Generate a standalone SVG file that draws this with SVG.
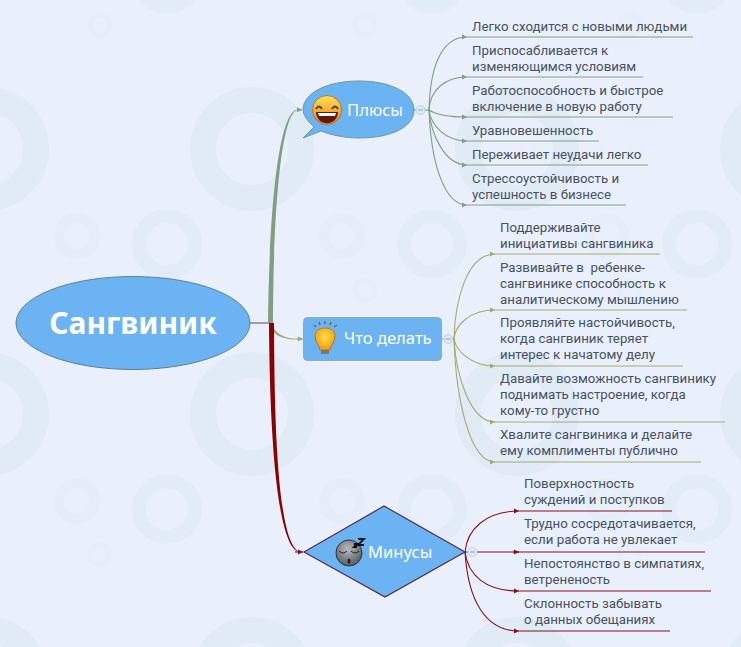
<svg xmlns="http://www.w3.org/2000/svg" width="741" height="647" viewBox="0 0 741 647">
<defs>
<style>
text{font-family:"Noto Sans","Open Sans",sans-serif}
.t{font-family:Roboto,"Noto Sans",sans-serif;font-size:13.3px;fill:#45525f;white-space:pre}
.n{font-size:16.6px;fill:#fff}
.r{fill:none}
.g,.o,.m{fill:none;stroke-width:1.1}
.g{stroke:#7f9f80}.o{stroke:#a3ab6c}.m{stroke:#84101c}
.c{fill:#dfe9f7;stroke:#bcd0ea;stroke-width:1}
</style>
<marker id="ag" markerWidth="6" markerHeight="6" refX="5" refY="2.5" orient="auto"><path d="M0 0L5 2.5L0 5z" fill="#7f9f80"/></marker>
<marker id="ao" markerWidth="6" markerHeight="6" refX="5" refY="2.5" orient="auto"><path d="M0 0L5 2.5L0 5z" fill="#a3ab6c"/></marker>
<marker id="am" markerWidth="6" markerHeight="6" refX="5" refY="2.5" orient="auto"><path d="M0 0L5 2.5L0 5z" fill="#84101c"/></marker>
<radialGradient id="bulb" cx=".5" cy=".4" r=".6"><stop offset="0" stop-color="#ffe04a"/><stop offset="1" stop-color="#f09a10"/></radialGradient>
<linearGradient id="smile" x1="0" y1="0" x2="0" y2="1"><stop offset="0" stop-color="#ffe25a"/><stop offset="1" stop-color="#f07a10"/></linearGradient>
<radialGradient id="sleep" cx=".45" cy=".35" r=".7"><stop offset="0" stop-color="#b9bcc0"/><stop offset="1" stop-color="#4d5256"/></radialGradient>
<g id="tile">
<circle class="r" cx="252" cy="149" r="49" stroke="#e0ebf6" stroke-width="26"/>
<circle class="r" cx="167" cy="244" r="28" stroke="#e2ecf7" stroke-width="14"/>
<circle class="r" cx="77" cy="236" r="18" stroke="#e4edf8" stroke-width="10"/>
<circle class="r" cx="100" cy="290" r="10" stroke="#e5eef9" stroke-width="5"/>
</g>
</defs>
<rect width="741" height="647" fill="#eaf0fb"/>
<g id="background">
<use href="#tile" x="-265" y="-265"/><use href="#tile" x="0" y="-265"/><use href="#tile" x="265" y="-265"/><use href="#tile" x="530" y="-265"/>
<use href="#tile" x="-265" y="0"/><use href="#tile" x="0" y="0"/><use href="#tile" x="265" y="0"/><use href="#tile" x="530" y="0"/>
<use href="#tile" x="-265" y="265"/><use href="#tile" x="0" y="265"/><use href="#tile" x="265" y="265"/><use href="#tile" x="530" y="265"/>
<use href="#tile" x="-265" y="530"/><use href="#tile" x="0" y="530"/><use href="#tile" x="265" y="530"/><use href="#tile" x="530" y="530"/>
</g>
<g id="connectors">
<path d="M250 323H271" fill="none" stroke="#5a4a4a" stroke-width="1"/>
<path d="M268 323C269 225 277 110 298 109.500L298 110C280 111.500 273 225 273 323z" fill="#7f9f80"/>
<path d="M297 109.800H302" class="g" marker-end="url(#ag)"/>
<path d="M272 323C274 333 283 338.600 298 338.800L298 339.400C281 340 271 334 269.500 323z" fill="#a3ab6c"/>
<path d="M297 339H303" class="o" marker-end="url(#ao)"/>
<path d="M269 323H274C274.500 420 277 545 300 552C281 551 270 470 269 323z" fill="#8b0000"/>
<path d="M295 552H303" class="m" marker-end="url(#am)"/>
<path d="M414 110H429" class="g"/>
<path class="g" marker-end="url(#ag)" d="M429 110C430 70 440 37 467 37"/>
<path class="g" marker-end="url(#ag)" d="M429 110C430 90 445 77 467 77"/>
<path class="g" marker-end="url(#ag)" d="M429 110C435 114 445 117 467 117"/>
<path class="g" marker-end="url(#ag)" d="M429 110C431 125 445 141 467 141"/>
<path class="g" marker-end="url(#ag)" d="M429 110C431 135 445 165 467 165"/>
<path class="g" marker-end="url(#ag)" d="M429 110C431 165 445 205 467 205"/>
<path d="M467 37H693M467 77H643M467 117H673M467 141H599M467 165H648M467 205H626" class="g"/>
<path d="M442 339H454" class="o"/>
<path class="o" marker-end="url(#ao)" d="M454 339C455 300 467 254 495 254"/>
<path class="o" marker-end="url(#ao)" d="M454 339C455 325 470 310 495 310"/>
<path class="o" marker-end="url(#ao)" d="M454 339C456 350 470 366 495 366"/>
<path class="o" marker-end="url(#ao)" d="M454 339C456 375 470 422 495 422"/>
<path class="o" marker-end="url(#ao)" d="M454 339C456 400 470 462 495 462"/>
<path d="M495 254H660M495 310H687M495 366H683M495 422H725M495 462H701" class="o"/>
<path d="M465 552H519M519 552H705" fill="none" stroke="#84101c" stroke-width="1.100"/>
<path d="M513 552H519" class="m" marker-end="url(#am)"/>
<path class="m" marker-end="url(#am)" d="M465 552C467 530 485 511 519 511"/>
<path class="m" marker-end="url(#am)" d="M465 552C468 575 485 591 519 591"/>
<path class="m" marker-end="url(#am)" d="M465 552C468 600 485 631 519 631"/>
<path d="M519 511H672M519 591H711M519 631H670" class="m"/>
</g>
<g id="center"><ellipse cx="133" cy="323" rx="117" ry="46.500" fill="#6cb3f3" stroke="#5d7f9d"/><text x="133" y="334" text-anchor="middle" font-size="30" font-weight="700" fill="#fff">Сангвиник</text></g>
<g id="plus">
<path d="M303 138L314 127C306 120 303 113 303 110C303 93 327 81 359 81C391 81 414 93 414 110C414 127 391 138 359 138C345 138 331 135 321 131z" fill="#6cb3f3" stroke="#6f96a0"/>
<circle cx="327" cy="110" r="14.500" fill="url(#smile)" stroke="#b77a25"/>
<path d="M316 109q3-5 6 0M332 109q3-5 6 0" fill="none" stroke="#444" stroke-width="1.800"/>
<path d="M316 112H338C337 127 317 127 316 112z" fill="#5a1a10"/><path d="M318 113H336L335 116H319z" fill="#fff"/>
<text class="n" x="347" y="116">Плюсы</text>
<circle class="c" cx="420.500" cy="110" r="4.500"/><path d="M418 110H423" stroke="#8aa3c4"/>
</g>
<g id="todo">
<rect x="303.500" y="317.500" width="138" height="43" rx="4" fill="#6cb3f3" stroke="#8fb09a"/>
<path d="M316 327l-2-2M320 325l-1-3M325 324v-3M330 325l1-3M334 327l3-2" stroke="#6a6a55" fill="none" stroke-width="1.500"/>
<path d="M325 328C332 328 335 332 335 336C335 342 331 344 330 350H320C319 344 315 342 315 336C315 332 318 328 325 328z" fill="url(#bulb)" stroke="#b07c20"/>
<rect x="321" y="350" width="8" height="4" fill="#777"/>
<text class="n" x="344" y="344">Что делать</text>
<circle class="c" cx="448" cy="339" r="4.500"/><path d="M445.500 339H450.500" stroke="#8aa3c4"/>
</g>
<g id="minus">
<path d="M304 552L384 506L465 552L385 597z" fill="#6cb3f3" stroke="#57294a" stroke-width="1.200"/>
<circle cx="349" cy="553" r="13" fill="url(#sleep)" stroke="#333"/>
<path d="M339 551q4 4 8 0M351 551q4 4 8 0" fill="none" stroke="#222"/><ellipse cx="349" cy="561" rx="1.500" ry="2.500" fill="#222"/>
<path d="M358 539h6l-6 6h6M354 544h3l-3 3h3" fill="none" stroke="#111" stroke-width="1.800"/>
<text class="n" x="368" y="558">Минусы</text>
<circle class="c" cx="472.500" cy="552" r="4.500"/><path d="M470 552H475" stroke="#8aa3c4"/>
</g>
<g id="plus-items">
<text class="t" x="472" y="31">Легко сходится с новыми людьми</text>
<text class="t" x="472" y="55">Приспосабливается к</text><text class="t" x="472" y="71">изменяющимся условиям</text>
<text class="t" x="472" y="95">Работоспособность и быстрое</text><text class="t" x="472" y="111">включение в новую работу</text>
<text class="t" x="472" y="135">Уравновешенность</text>
<text class="t" x="472" y="159">Переживает неудачи легко</text>
<text class="t" x="472" y="183">Стрессоустойчивость и</text><text class="t" x="472" y="199">успешность в бизнесе</text>
</g>
<g id="todo-items">
<text class="t" x="500" y="232">Поддерживайте</text><text class="t" x="500" y="248">инициативы сангвиника</text>
<text class="t" x="500" y="272">Развивайте в  ребенке-</text><text class="t" x="500" y="288">сангвинике способность к</text><text class="t" x="500" y="304">аналитическому мышлению</text>
<text class="t" x="500" y="327">Проявляйте настойчивость,</text><text class="t" x="500" y="343">когда сангвиник теряет</text><text class="t" x="500" y="359">интерес к начатому делу</text>
<text class="t" x="500" y="383">Давайте возможность сангвинику</text><text class="t" x="500" y="399">поднимать настроение, когда</text><text class="t" x="500" y="415">кому-то грустно</text>
<text class="t" x="500" y="439">Хвалите сангвиника и делайте</text><text class="t" x="500" y="455">ему комплименты публично</text>
</g>
<g id="minus-items">
<text class="t" x="524" y="488">Поверхностность</text><text class="t" x="524" y="504">суждений и поступков</text>
<text class="t" x="524" y="528">Трудно сосредотачивается,</text><text class="t" x="524" y="544">если работа не увлекает</text>
<text class="t" x="524" y="568">Непостоянство в симпатиях,</text><text class="t" x="524" y="584">ветрененость</text>
<text class="t" x="524" y="608">Склонность забывать</text><text class="t" x="524" y="624">о данных обещаниях</text>
</g>
</svg>
